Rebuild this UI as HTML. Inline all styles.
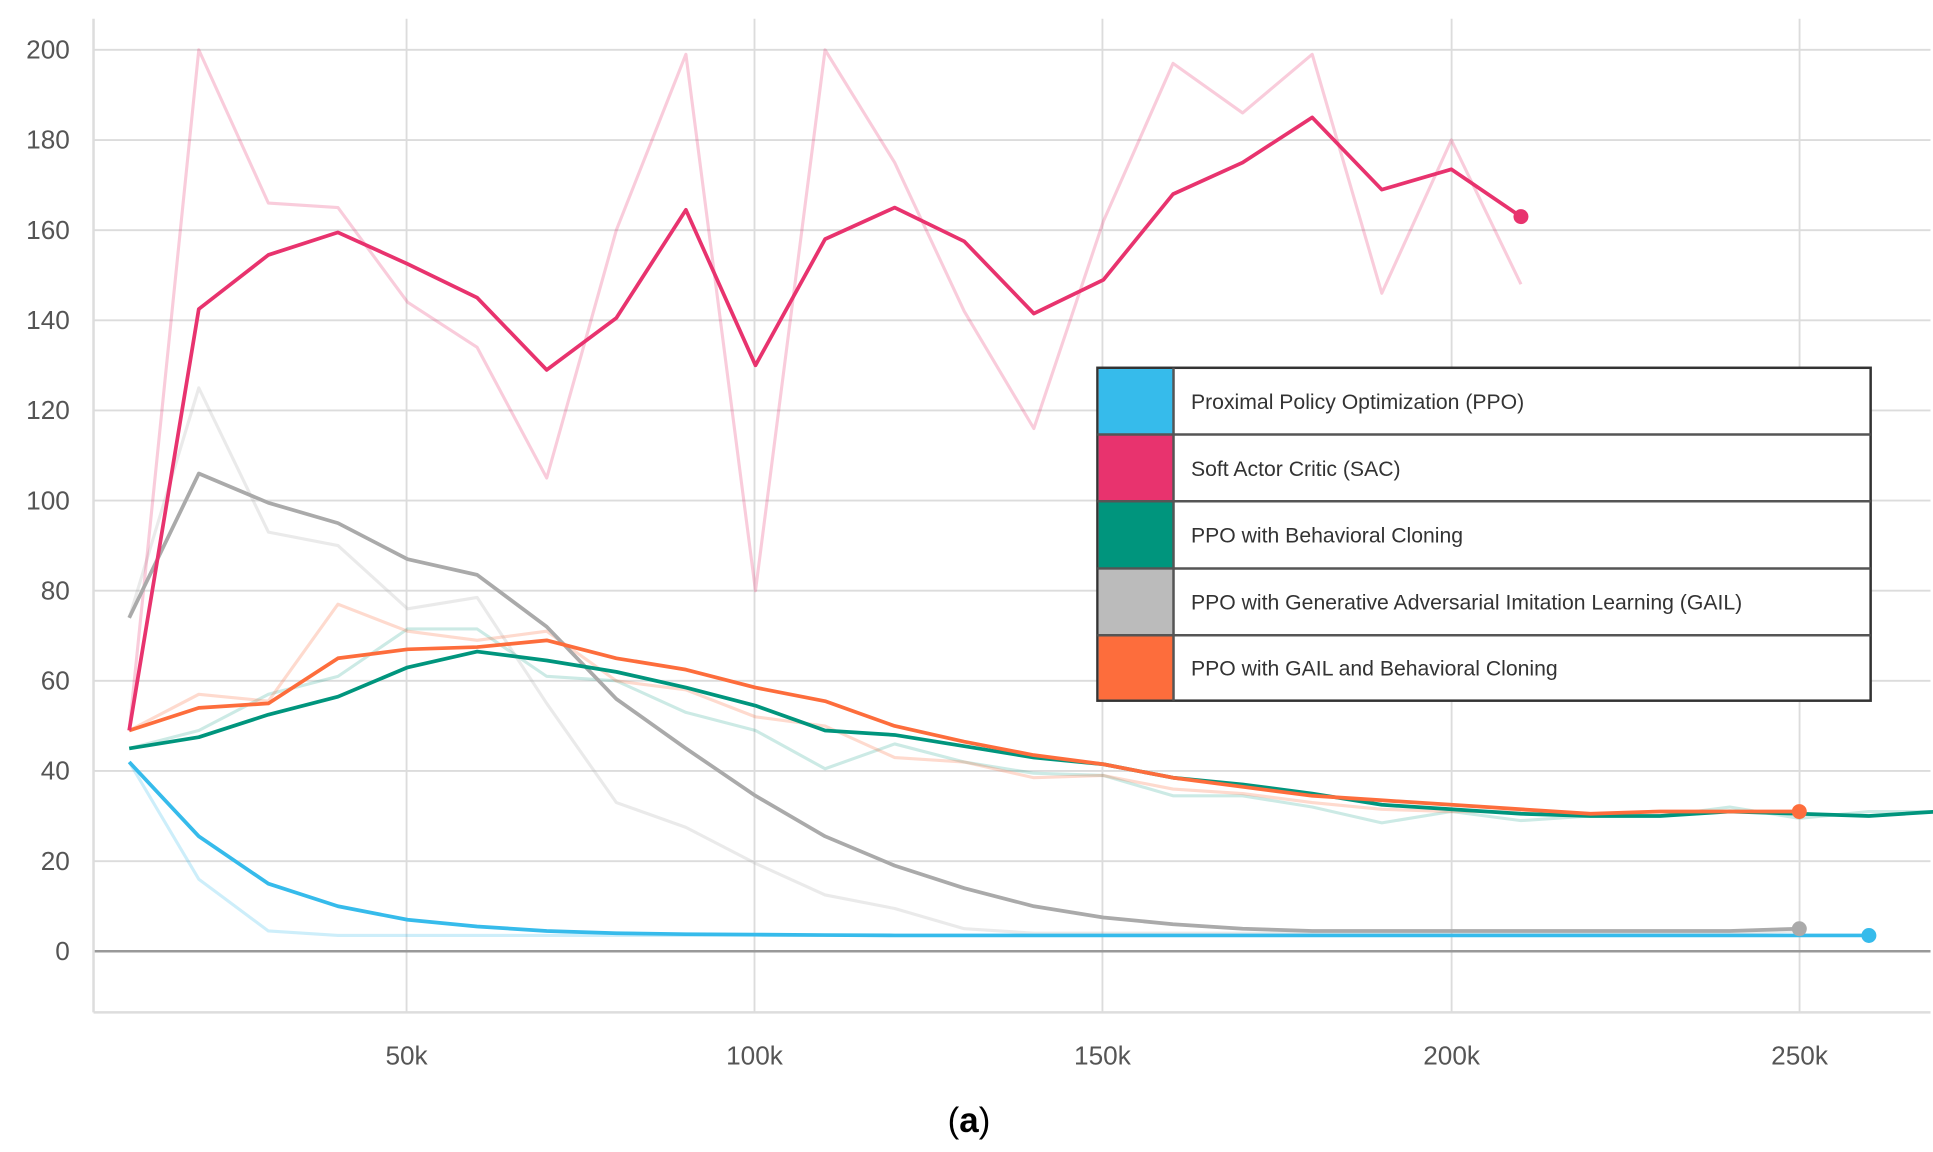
<!DOCTYPE html>
<html><head><meta charset="utf-8"><style>
html,body{margin:0;padding:0;background:#fff;}
svg{display:block}
text{font-family:"Liberation Sans",sans-serif;}
</style></head><body>
<svg id="s" width="1933" height="1152" viewBox="0 0 1550 924" preserveAspectRatio="none">
<rect width="1550" height="924" fill="#fff"/>
<g id="grid" stroke="#dcdcdc" stroke-width="1.5"></g>
<g fill="#555" font-size="21" text-anchor="end" id="ylab"></g>
<g fill="#555" font-size="21" text-anchor="middle">
<text x="326" y="854">50k</text><text x="605" y="854">100k</text><text x="884" y="854">150k</text><text x="1164" y="854">200k</text><text x="1443" y="854">250k</text>
</g>
<line x1="75" y1="763" x2="1548" y2="763" stroke="#999" stroke-width="2"/>
<line x1="75" y1="812" x2="1548" y2="812" stroke="#ddd" stroke-width="2"/>
<line x1="75" y1="15" x2="75" y2="812" stroke="#ddd" stroke-width="2"/>
<g id="lines" fill="none" stroke-width="3" stroke-linejoin="round"></g>
<g id="legend">
<rect x="880" y="295" width="620" height="267" fill="#fff" stroke="#333" stroke-width="2"/>
<rect x="881" y="296" width="60" height="52" fill="#36bbeb"/>
<rect x="881" y="349" width="60" height="53" fill="#e8336e"/>
<rect x="881" y="403" width="60" height="53" fill="#00957d"/>
<rect x="881" y="457" width="60" height="52" fill="#bbbbbb"/>
<rect x="881" y="510" width="60" height="51" fill="#fd6d3c"/>
<g stroke="#555" stroke-width="2"><line x1="880" y1="348.5" x2="1500" y2="348.5"/><line x1="880" y1="402" x2="1500" y2="402"/><line x1="880" y1="456" x2="1500" y2="456"/><line x1="880" y1="509.5" x2="1500" y2="509.5"/><line x1="941" y1="295" x2="941" y2="562"/></g>
<g fill="#333" font-size="17">
<text x="955" y="328">Proximal Policy Optimization (PPO)</text>
<text x="955" y="382">Soft Actor Critic (SAC)</text>
<text x="955" y="435">PPO with Behavioral Cloning</text>
<text x="955" y="489">PPO with Generative Adversarial Imitation Learning (GAIL)</text>
<text x="955" y="542">PPO with GAIL and Behavioral Cloning</text>
</g></g>
<text x="777" y="908" font-family="Liberation Serif,serif" font-size="28" text-anchor="middle" fill="#000">(<tspan font-weight="bold">a</tspan>)</text>
</svg>
<script>
var NS="http://www.w3.org/2000/svg";
function el(p,t,a){var e=document.createElementNS(NS,t);for(var k in a)e.setAttribute(k,a[k]);document.getElementById(p).appendChild(e);return e;}
for(var v=0;v<=200;v+=20){var y=763-v*3.615;if(v>0)el("grid","line",{x1:75,y1:y,x2:1548,y2:y});var t=el("ylab","text",{x:56,y:y+7});t.textContent=v;}
[326,605,884,1164,1443].forEach(function(x){el("grid","line",{x1:x,y1:15,x2:x,y2:812});});
function X(i){return 103.6+55.8*i;}function Y(v){return 763-v*3.615;}
function pl(d,c,w,o){var p=d.map(function(v,i){return X(i).toFixed(1)+","+Y(v).toFixed(1);}).join(" ");el("lines","polyline",{points:p,stroke:c,"stroke-width":w,opacity:o});}
var raw={
sac:[49,200,166,165,144,134,105,160,199,80,200,175,142,116,162,197,186,199,146,180,148],
gr:[74,125,93,90,76,78.5,55,33,27.5,19.5,12.5,9.5,5,4,4,4,4,4,4,4,4,4,4,4,4.5],
or:[49,57,55.5,77,71,69,71,60,58,52,50,43,42,38.5,39,36,35,33,31.5,31,31,30.5,31,31,31],
te:[45,49,57,61,71.5,71.5,61,60,53,49,40.5,46,42,39.5,39,34.5,34.5,32,28.5,31,29,30,30,32,29.5,31,31],
bl:[42,16,4.5,3.5,3.5,3.5,3.5,3.5,3.5,3.5,3.5,3.5,3.5,3.5,3.5,3.5,3.5,3.5,3.5,3.5,3.5,3.5,3.5,3.5,3.5,3.5]};
var sm={
sac:[49,142.5,154.5,159.5,152.5,145,129,140.5,164.5,130,158,165,157.5,141.5,149,168,175,185,169,173.5,163],
gr:[74,106,99.5,95,87,83.5,72,56,45,34.5,25.5,19,14,10,7.5,6,5,4.5,4.5,4.5,4.5,4.5,4.5,4.5,5],
or:[49,54,55,65,67,67.5,69,65,62.5,58.5,55.5,50,46.5,43.5,41.5,38.5,36.5,34.5,33.5,32.5,31.5,30.5,31,31,31],
te:[45,47.5,52.5,56.5,63,66.5,64.5,62,58.5,54.5,49,48,45.5,43,41.5,38.5,37,35,32.5,31.5,30.5,30,30,31,30.5,30,31],
bl:[42,25.5,15,10,7,5.5,4.5,4,3.8,3.7,3.6,3.5,3.5,3.5,3.5,3.5,3.5,3.5,3.5,3.5,3.5,3.5,3.5,3.5,3.5,3.5]};
var col={sac:"#e8336e",gr:"#aaaaaa",or:"#fd6d3c",te:"#00957d",bl:"#36bbeb"};
var op={sac:0.25,gr:0.25,or:0.25,te:0.2,bl:0.25};
["gr","sac","bl","te","or"].forEach(function(k){pl(raw[k],col[k],2.5,op[k]);});
["gr","bl","te","or","sac"].forEach(function(k){pl(sm[k],col[k],3,1);});
el("lines","circle",{cx:X(20),cy:Y(163),r:6,fill:col.sac,stroke:"none"});
el("lines","circle",{cx:X(24),cy:Y(31),r:6,fill:col.or,stroke:"none"});
el("lines","circle",{cx:X(24),cy:Y(5),r:6,fill:"#aaa",stroke:"none"});
el("lines","circle",{cx:X(25),cy:Y(3.5),r:6,fill:col.bl,stroke:"none"});
</script>
</body></html>
